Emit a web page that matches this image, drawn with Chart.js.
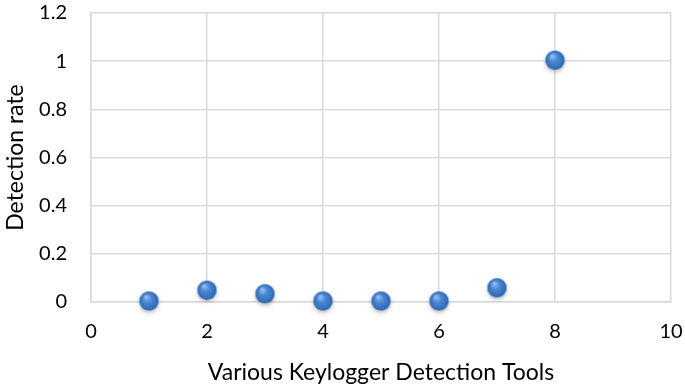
<!DOCTYPE html>
<html>
<head>
<meta charset="utf-8">
<script src="https://cdn.jsdelivr.net/npm/chart.js@4/dist/chart.umd.min.js"></script>
<style>
  html, body { margin: 0; padding: 0; background: #fff; }
  #wrap { width: 685px; height: 390px; }
</style>
</head>
<body>
<div id="wrap"><canvas id="detChart" width="685" height="390"></canvas></div>
<script>
// data
const tools = [1, 2, 3, 4, 5, 6, 7, 8];
const detectionRate = [0, 0.045, 0.03, 0, 0, 0, 0.055, 1];
const xTicks = [0, 2, 4, 6, 8, 10];
const yTicks = [0, 0.2, 0.4, 0.6, 0.8, 1, 1.2];

// shiny blue ball used as point marker
function makeBall(r) {
  const c = document.createElement("canvas");
  const size = r * 2 + 8;
  c.width = size;
  c.height = size;
  const g = c.getContext("2d");
  const cx = size / 2, cy = size / 2 - 1;
  g.save();
  g.shadowColor = "rgba(0,0,0,0.3)";
  g.shadowBlur = 4;
  g.shadowOffsetY = 2;
  g.beginPath();
  g.arc(cx, cy, r, 0, Math.PI * 2);
  g.fillStyle = "#3b78c8";
  g.fill();
  g.restore();
  const grad = g.createRadialGradient(cx - r * 0.3, cy - r * 0.45, r * 0.1, cx, cy, r);
  grad.addColorStop(0, "#8dbbef");
  grad.addColorStop(0.4, "#4a87d2");
  grad.addColorStop(0.85, "#3370bf");
  grad.addColorStop(1, "#2a5fa6");
  g.beginPath();
  g.arc(cx, cy, r, 0, Math.PI * 2);
  g.fillStyle = grad;
  g.fill();
  return c;
}
const ball = makeBall(9.5);

const gridColor = "#d9d9d9";
const fontFamily = "Lato, 'Open Sans', sans-serif";
const tickFont = { family: fontFamily, size: 20 };
const titleFont = { family: fontFamily, size: 23 };

new Chart(document.getElementById("detChart").getContext("2d"), {
  type: "scatter",
  data: {
    datasets: [
      {
        data: tools.map((t, i) => ({ x: t, y: detectionRate[i] })),
        pointStyle: ball,
        pointRadius: 10,
        pointHoverRadius: 10,
        clip: false,
      },
    ],
  },
  options: {
    responsive: false,
    animation: false,
    layout: { autoPadding: false, padding: { top: 0, right: 0, left: 2, bottom: 2 } },
    plugins: {
      legend: { display: false },
      tooltip: { enabled: false },
    },
    scales: {
      x: {
        type: "linear",
        min: 0,
        max: 10,
        afterBuildTicks: (axis) => { axis.ticks = xTicks.map((v) => ({ value: v })); },
        afterFit: (axis) => {
          axis.height = 86;
          axis.paddingLeft = 0;
          axis.paddingRight = 14;
        },
        grid: { color: gridColor, lineWidth: 1.5, drawTicks: false },
        border: { color: gridColor, width: 1.5 },
        ticks: { color: "#000", font: tickFont, padding: 18 },
        title: {
          display: true,
          text: "Various Keylogger Detection Tools",
          color: "#000",
          font: titleFont,
          padding: { top: 10, bottom: 2 },
        },
      },
      y: {
        min: 0,
        max: 1.2,
        afterBuildTicks: (axis) => { axis.ticks = yTicks.map((v) => ({ value: v })); },
        afterFit: (axis) => {
          axis.width = 89;
          axis.paddingTop = 13;
          axis.paddingBottom = 0;
        },
        grid: { color: gridColor, lineWidth: 1.5, drawTicks: false },
        border: { color: gridColor, width: 1.5 },
        ticks: {
          color: "#000",
          font: tickFont,
          padding: 24,
          callback: (v) => String(Math.round(v * 10) / 10),
        },
        title: {
          display: true,
          text: "Detection rate",
          color: "#000",
          font: titleFont,
          padding: { top: 0, bottom: 10 },
        },
      },
    },
  },
});
</script>
</body>
</html>
